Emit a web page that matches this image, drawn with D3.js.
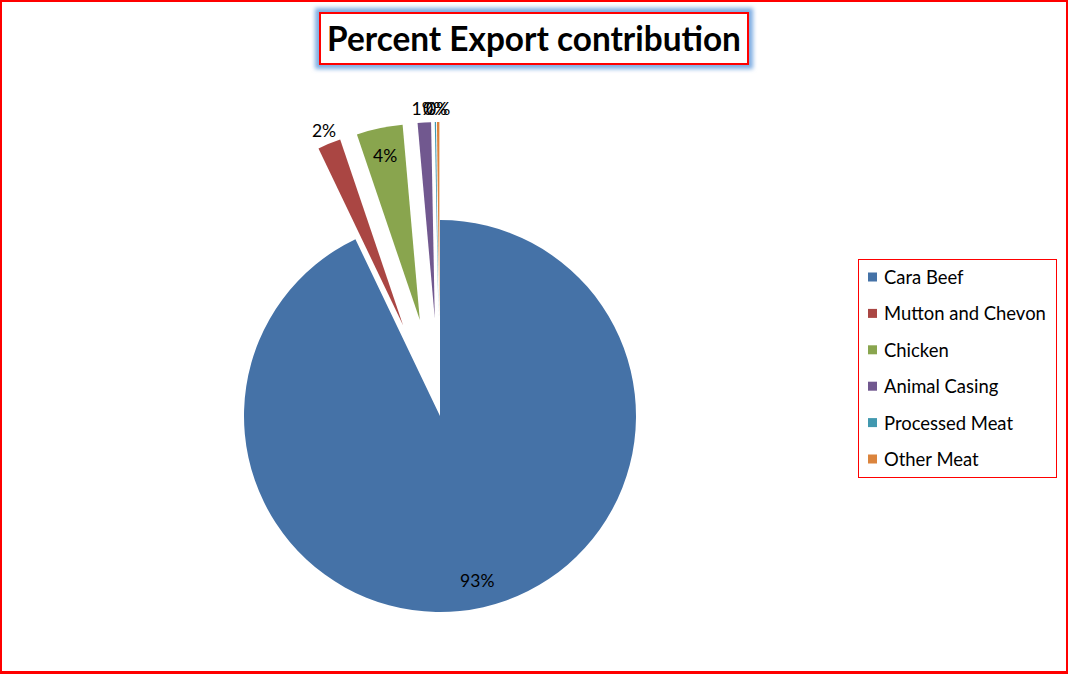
<!DOCTYPE html>
<html>
<head>
<meta charset="utf-8">
<script src="https://cdn.jsdelivr.net/npm/d3@7"></script>
<style>
  html, body { margin: 0; padding: 0; background: #fff; }
  svg { display: block; }
</style>
</head>
<body>
<svg id="chart" width="1068" height="674"></svg>
<script>
const categories = ["Cara Beef", "Mutton and Chevon", "Chicken", "Animal Casing", "Processed Meat", "Other Meat"];
const values = [92.9, 1.9, 3.8, 1.1, 0.1, 0.2];
const colors = ["#4572A7", "#AA4643", "#89A54E", "#71588F", "#4198AF", "#DB843D"];
const exploded = [false, true, true, true, true, true];
const titleText = "Percent Export contribution";

const W = 1068, H = 674;
const svg = d3.select("#chart");
const FONT = "Lato, 'Open Sans', sans-serif";

// outer border
svg.append("rect").attr("x", 1).attr("y", 1).attr("width", W - 2).attr("height", H - 2.5)
  .attr("fill", "#fff").attr("stroke", "#ff0000").attr("stroke-width", 2);
svg.append("line").attr("x1", 0).attr("x2", W).attr("y1", 672.5).attr("y2", 672.5)
  .attr("stroke", "#ff0000").attr("stroke-width", 3);

// title with glow
const defs = svg.append("defs");
const f = defs.append("filter").attr("id", "glow").attr("x", "-10%").attr("y", "-50%").attr("width", "120%").attr("height", "200%");
f.append("feGaussianBlur").attr("stdDeviation", 2.2);

const tb = { x: 320, y: 13, w: 428, h: 51 };
svg.append("rect").attr("x", tb.x - 1).attr("y", tb.y - 1).attr("width", tb.w + 2).attr("height", tb.h + 2)
  .attr("fill", "none").attr("stroke", "#7fade3").attr("stroke-width", 8).attr("filter", "url(#glow)");
svg.append("rect").attr("x", tb.x).attr("y", tb.y).attr("width", tb.w).attr("height", tb.h)
  .attr("fill", "#fff").attr("stroke", "#ff0000").attr("stroke-width", 2);
const title = svg.append("text").attr("x", tb.x + tb.w / 2).attr("y", 51)
  .attr("text-anchor", "middle").attr("font-family", FONT).attr("font-weight", "bold")
  .attr("font-size", 32).attr("fill", "#000").text(titleText);
{
  const len = title.node().getComputedTextLength();
  title.attr("font-size", 32 * 414 / len);
}

// pie
const cx = 440, cy = 416, R = 196, explode = 98;
const pie = d3.pie().sort(null).value(d => d.v);
const data = pie(values.map((v, i) => ({ v, name: categories[i], color: colors[i], ex: exploded[i] })));
const arc = d3.arc().innerRadius(0).outerRadius(R);

const g = svg.append("g").attr("transform", `translate(${cx},${cy})`);
function offset(d) {
  if (!d.data.ex) return [0, 0];
  const a = (d.startAngle + d.endAngle) / 2;
  return [Math.sin(a) * explode, -Math.cos(a) * explode];
}
g.selectAll("path.slice").data(data).enter().append("path")
  .attr("class", "slice")
  .attr("d", arc)
  .attr("fill", d => d.data.color)
  .attr("transform", d => { const o = offset(d); return `translate(${o[0]},${o[1]})`; });

// labels
function lblPos(d) {
  const o = offset(d); const a = (d.startAngle + d.endAngle) / 2;
  const r = d.data.v >= 3 ? R * 0.86 : R * 1.07;
  return [o[0] + Math.sin(a) * r, o[1] - Math.cos(a) * r];
}
g.selectAll("text.lbl").data(data).enter().append("text")
  .attr("class", "lbl")
  .attr("font-family", FONT).attr("font-size", 17.5).attr("fill", "#000")
  .attr("text-anchor", "middle").attr("dominant-baseline", "central")
  .attr("x", d => lblPos(d)[0])
  .attr("y", d => lblPos(d)[1])
  .text(d => Math.round(d.data.v) + "%");

// legend
const lg = { x: 858.5, y: 259.5, w: 198, h: 218 };
svg.append("rect").attr("x", lg.x).attr("y", lg.y).attr("width", lg.w).attr("height", lg.h)
  .attr("fill", "#fff").attr("stroke", "#ff0000").attr("stroke-width", 1);
const ly = d3.scalePoint().domain(categories).range([277, 459]);
const items = svg.selectAll("g.leg").data(categories).enter().append("g").attr("class", "leg")
  .attr("transform", d => `translate(868,${ly(d)})`);
items.append("rect").attr("x", 0).attr("y", -4.5).attr("width", 9).attr("height", 9)
  .attr("fill", (d, i) => colors[i]);
const legText = items.append("text").attr("x", 16).attr("y", 0).attr("dominant-baseline", "central")
  .attr("font-family", FONT).attr("font-size", 17).attr("fill", "#000").text(d => d);
{
  const node = legText.filter(d => d === "Mutton and Chevon").node();
  const len = node.getComputedTextLength();
  legText.attr("font-size", Math.min(19, 17 * 162 / len));
}
</script>
</body>
</html>
